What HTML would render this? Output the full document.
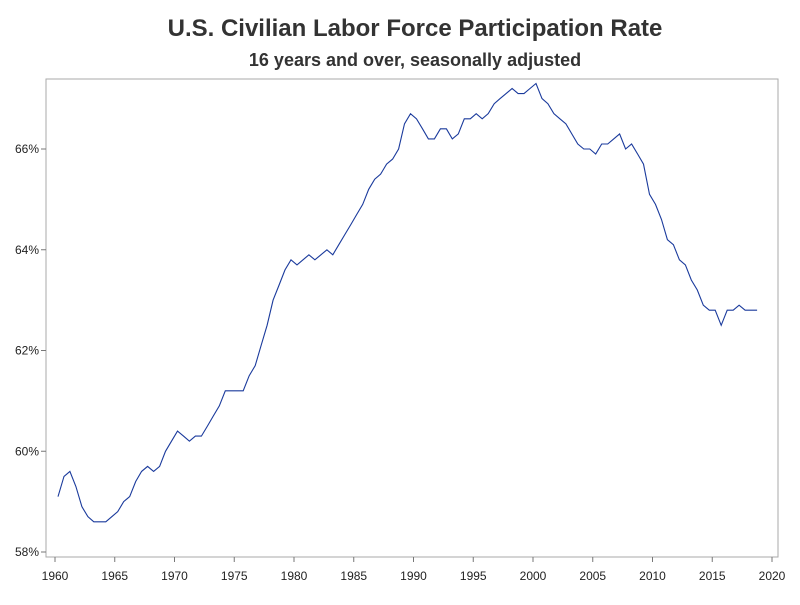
<!DOCTYPE html>
<html><head><meta charset="utf-8"><style>
body{margin:0;background:#fff;font-family:"Liberation Sans",sans-serif}
</style></head><body>
<svg id="chart" width="800" height="600">
<text x="415" y="36" text-anchor="middle" font-size="24" font-weight="bold" fill="#333">U.S. Civilian Labor Force Participation Rate</text>
<text x="415" y="66" text-anchor="middle" font-size="18" font-weight="bold" fill="#333">16 years and over, seasonally adjusted</text>
<rect x="46" y="79" width="732" height="478" fill="none" stroke="#aaa"/>
<g id="axes"></g>
<path id="line" fill="none" stroke="#1a3a9c" stroke-width="1.1"/>
</svg>
<script>
const startYear = 1960;
const values = [59.1,59.5,59.6,59.3,58.9,58.7,58.6,58.6,58.6,58.7,58.8,59.0,59.1,59.4,59.6,59.7,59.6,59.7,60.0,60.2,
60.4,60.3,60.2,60.3,60.3,60.5,60.7,60.9,61.2,61.2,61.2,61.2,61.5,61.7,62.1,62.5,63.0,63.3,63.6,63.8,
63.7,63.8,63.9,63.8,63.9,64.0,63.9,64.1,64.3,64.5,64.7,64.9,65.2,65.4,65.5,65.7,65.8,66.0,66.5,66.7,
66.6,66.4,66.2,66.2,66.4,66.4,66.2,66.3,66.6,66.6,66.7,66.6,66.7,66.9,67.0,67.1,67.2,67.1,67.1,67.2,
67.3,67.0,66.9,66.7,66.6,66.5,66.3,66.1,66.0,66.0,65.9,66.1,66.1,66.2,66.3,66.0,66.1,65.9,65.7,65.1,
64.9,64.6,64.2,64.1,63.8,63.7,63.4,63.2,62.9,62.8,62.8,62.5,62.8,62.8,62.9,62.8,62.8,62.8];
const xTicks = [1960,1965,1970,1975,1980,1985,1990,1995,2000,2005,2010,2015,2020];
const yTicks = [58,60,62,64,66];
const x = y => 55 + (y - 1960) * (772 - 55) / 60;
const yS = v => 552 - (v - 58) * (552 - 149) / 8;
const ax = document.getElementById('axes');
const ns = 'http://www.w3.org/2000/svg';
xTicks.forEach(t => {
  const l = document.createElementNS(ns,'line');
  l.setAttribute('x1',x(t));l.setAttribute('x2',x(t));l.setAttribute('y1',557);l.setAttribute('y2',562);l.setAttribute('stroke','#777');
  
  
  ax.appendChild(l);
  const tx = document.createElementNS(ns,'text');
  tx.setAttribute('x',x(t));tx.setAttribute('y',580);tx.setAttribute('text-anchor','middle');tx.setAttribute('font-size','12');tx.setAttribute('fill','#222');
  tx.textContent = t;
  
  
  ax.appendChild(tx);
});
yTicks.forEach(t => {
  const l = document.createElementNS(ns,'line');
  l.setAttribute('x1',41);l.setAttribute('x2',46);l.setAttribute('y1',yS(t));l.setAttribute('y2',yS(t));l.setAttribute('stroke','#777');
  
  
  ax.appendChild(l);
  const tx = document.createElementNS(ns,'text');
  tx.setAttribute('x',39);tx.setAttribute('y',yS(t)+4);tx.setAttribute('text-anchor','end');tx.setAttribute('font-size','12');tx.setAttribute('fill','#222');
  tx.textContent = t + '%';
  
  
  ax.appendChild(tx);
});
let d = '';
values.forEach((v,i) => { d += (i?'L':'M') + x(startYear + i*0.5 + 0.25).toFixed(1) + ',' + yS(v).toFixed(1); });
document.getElementById('line').setAttribute('d', d);
</script>
</body></html>
